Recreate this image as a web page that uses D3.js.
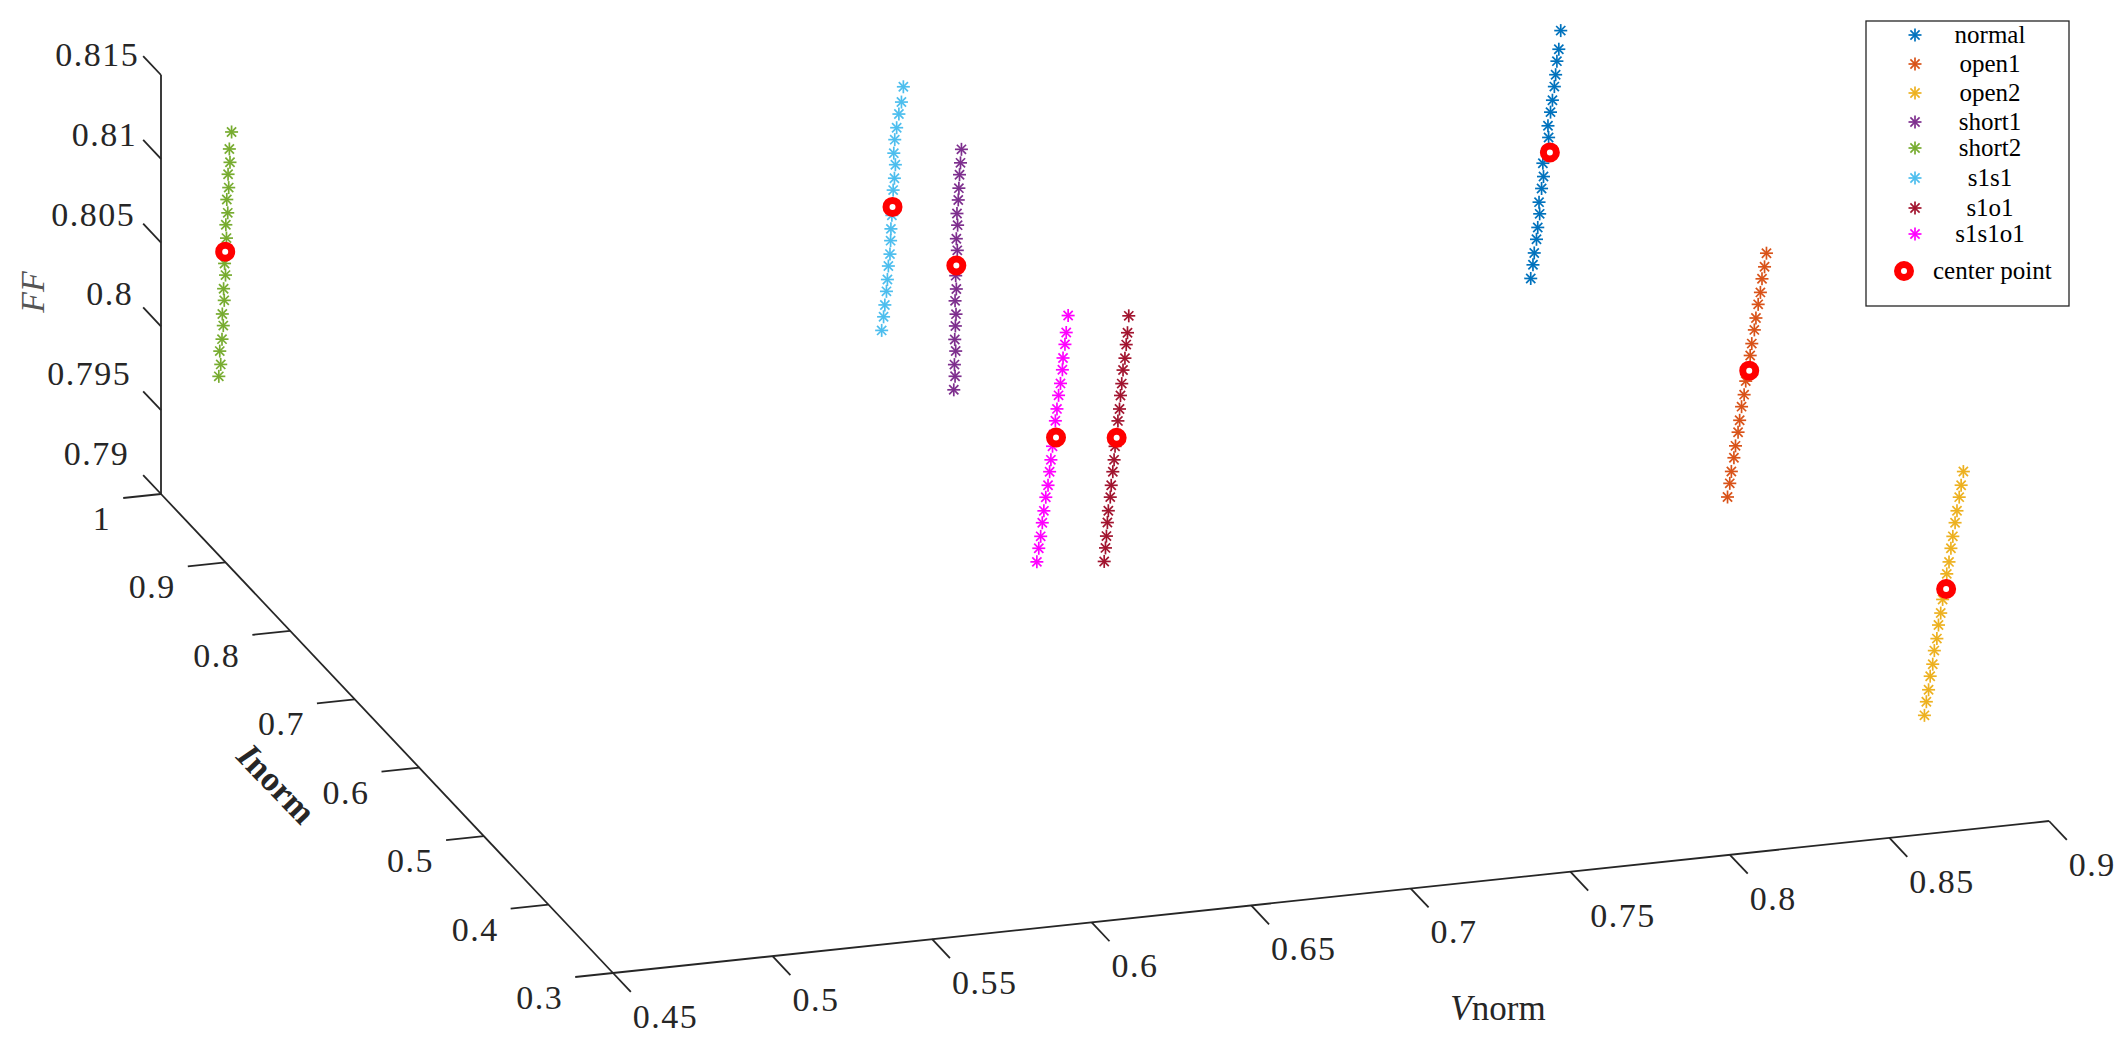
<!DOCTYPE html>
<html><head><meta charset="utf-8">
<script src="https://d3js.org/d3.v7.min.js"></script>
<style>body{margin:0;background:#fff}svg{display:block}</style>
</head><body><svg id="c" width="2124" height="1062" font-family="'Liberation Serif', 'Times New Roman', 'DejaVu Serif', serif"></svg>
<script>
// ---- data ----
const seriesNames = ["normal","open1","open2","short1","short2","s1s1","s1o1","s1s1o1"];
const seriesColors = ["#0072BD","#D95319","#EDB120","#7E2F8E","#77AC30","#4DBEEE","#A2142F","#FF00FF"];
const seriesI = [0.9,0.7,0.4,0.9,0.95,0.9,0.8,0.8];
const seriesF = [
 [0.7987,0.7995,0.8002,0.8010,0.8017,0.8025,0.8032,0.8040,0.8047,0.8055,0.8062,0.8070,0.8077,0.8085,0.8092,0.8100,0.8107,0.8115,0.8122,0.8133],
 [0.7934,0.7942,0.7949,0.7957,0.7964,0.7972,0.7979,0.7987,0.7994,0.8002,0.8009,0.8017,0.8024,0.8032,0.8039,0.8047,0.8054,0.8062,0.8069,0.8077],
 [0.7926,0.7934,0.7941,0.7949,0.7956,0.7964,0.7971,0.7979,0.7986,0.7994,0.8001,0.8009,0.8016,0.8024,0.8031,0.8039,0.8046,0.8054,0.8061,0.8069],
 [0.7957,0.7965,0.7972,0.7980,0.7987,0.7995,0.8002,0.8010,0.8017,0.8025,0.8032,0.8040,0.8047,0.8055,0.8062,0.8070,0.8077,0.8085,0.8092,0.8100],
 [0.7989,0.7996,0.8004,0.8011,0.8019,0.8026,0.8034,0.8041,0.8049,0.8056,0.8064,0.8071,0.8079,0.8086,0.8094,0.8101,0.8109,0.8116,0.8124,0.8134],
 [0.7997,0.8005,0.8012,0.8020,0.8027,0.8035,0.8042,0.8050,0.8057,0.8065,0.8072,0.8080,0.8087,0.8095,0.8102,0.8110,0.8117,0.8125,0.8132,0.8141],
 [0.7890,0.7898,0.7905,0.7913,0.7920,0.7928,0.7935,0.7943,0.7950,0.7958,0.7965,0.7973,0.7980,0.7988,0.7995,0.8003,0.8010,0.8018,0.8025,0.8035],
 [0.7894,0.7902,0.7909,0.7917,0.7924,0.7932,0.7939,0.7947,0.7954,0.7962,0.7969,0.7977,0.7984,0.7992,0.7999,0.8007,0.8014,0.8022,0.8029,0.8039]
];
const seriesV = [
 [0.8590,0.8597,0.8601,0.8608,0.8612,0.8618,0.8616,0.8624,0.8630,0.8628,0.8640,0.8646,0.8644,0.8652,0.8658,0.8664,0.8668,0.8672,0.8678,0.8684],
 [0.8802,0.8809,0.8814,0.8822,0.8827,0.8835,0.8840,0.8846,0.8854,0.8859,0.8866,0.8873,0.8878,0.8886,0.8891,0.8898,0.8905,0.8910,0.8918,0.8924],
 [0.8812,0.8818,0.8825,0.8830,0.8838,0.8843,0.8851,0.8856,0.8863,0.8869,0.8876,0.8882,0.8889,0.8895,0.8901,0.8908,0.8914,0.8921,0.8927,0.8934],
 [0.6782,0.6786,0.6784,0.6788,0.6785,0.6787,0.6789,0.6786,0.6790,0.6788,0.6791,0.6793,0.6790,0.6794,0.6792,0.6796,0.6798,0.6800,0.6803,0.6806],
 [0.4580,0.4586,0.4583,0.4590,0.4594,0.4591,0.4597,0.4595,0.4601,0.4598,0.4600,0.4604,0.4602,0.4608,0.4605,0.4611,0.4609,0.4615,0.4613,0.4620],
 [0.6556,0.6562,0.6566,0.6571,0.6574,0.6577,0.6582,0.6584,0.6585,0.6588,0.6590,0.6592,0.6596,0.6599,0.6594,0.6597,0.6603,0.6610,0.6618,0.6624],
 [0.7051,0.7055,0.7058,0.7061,0.7064,0.7070,0.7073,0.7078,0.7082,0.7085,0.7090,0.7094,0.7099,0.7102,0.7106,0.7110,0.7116,0.7120,0.7124,0.7128],
 [0.6840,0.6846,0.6852,0.6857,0.6862,0.6868,0.6875,0.6880,0.6884,0.6889,0.6893,0.6898,0.6903,0.6908,0.6914,0.6920,0.6922,0.6928,0.6932,0.6938]
];
const centerV = [0.865,0.887,0.888,0.679,0.460,0.659,0.709,0.690];
const centerF = [0.8061,0.8008,0.8000,0.8031,0.8063,0.8070,0.7963,0.7967];
const vTicks = [0.45,0.5,0.55,0.6,0.65,0.7,0.75,0.8,0.85,0.9];
const iTicks = [0.3,0.4,0.5,0.6,0.7,0.8,0.9,1];
const fTicks = [0.79,0.795,0.8,0.805,0.81,0.815];

// ---- projection via scales ----
const X0=613, Y0=973;
const vX=d3.scaleLinear().domain([0.45,0.9]).range([0,1436]);
const vY=d3.scaleLinear().domain([0.45,0.9]).range([0,-152]);
const iX=d3.scaleLinear().domain([0.3,1]).range([0,-452]);
const iY=d3.scaleLinear().domain([0.3,1]).range([0,-479]);
const fY=d3.scaleLinear().domain([0.79,0.815]).range([0,-419]);
const P=(v,i,f)=>[X0+vX(v)+iX(i), Y0+vY(v)+iY(i)+fY(f)];

const svg=d3.select("#c");
const ax=svg.append("g").attr("stroke","#262626").attr("stroke-width",1.8).attr("fill","none");
const line=(a,b)=>ax.append("line").attr("x1",a[0]).attr("y1",a[1]).attr("x2",b[0]).attr("y2",b[1]);
line(P(0.45,0.3,0.79),P(0.9,0.3,0.79));
line(P(0.45,0.3,0.79),P(0.45,1,0.79));
line(P(0.45,1,0.79),P(0.45,1,0.815));
const tc="#262626", fs=34;
function unit(dx,dy){const l=Math.hypot(dx,dy);return [dx/l,dy/l];}
const uV=unit(1436,-152), uI=unit(-452,-479);
const txt=(x,y,a,t)=>svg.append("text").attr("x",x).attr("y",y).attr("text-anchor",a).attr("font-size",fs).attr("letter-spacing",1.5).attr("fill",tc).text(t);
vTicks.forEach(t=>{const p=P(t,0.3,0.79);const q=[p[0]-uI[0]*26,p[1]-uI[1]*26];line(p,q);
 txt(q[0]+2,q[1]+36,"start",t);});
iTicks.forEach(t=>{const p=P(0.45,t,0.79);const q=[p[0]-uV[0]*38,p[1]-uV[1]*38];line(p,q);
 txt(q[0]-12,q[1]+32,"end",t);});
fTicks.forEach((t,k)=>{const p=P(0.45,1,t);const q=[p[0]+uI[0]*26,p[1]+uI[1]*26];line(p,q);
 txt(q[0]-2*(5-k)/5*5-4,q[1]-10+k*4,"end",t);});
svg.append("text").attr("transform","translate(44,292) rotate(-90)").attr("text-anchor","middle").attr("font-size",34).attr("fill","#555").attr("font-style","italic").text("FF");
const il=svg.append("text").attr("transform","translate(268,792) rotate(46)").attr("text-anchor","middle").attr("font-size",35).attr("font-weight","bold").attr("fill","#262626");
il.append("tspan").attr("font-style","italic").text("I");il.append("tspan").text("norm");
const vl=svg.append("text").attr("transform","translate(1498,1020)").attr("text-anchor","middle").attr("font-size",35).attr("fill","#262626");
vl.append("tspan").attr("font-style","italic").text("V");vl.append("tspan").text("norm");

function star(g,x,y,c,r){const s=g.append("g").attr("stroke",c).attr("stroke-width",1.7);
 [[r,0],[0,r],[r*0.707,r*0.707],[r*0.707,-r*0.707]].forEach(d=>s.append("line").attr("x1",x-d[0]).attr("y1",y-d[1]).attr("x2",x+d[0]).attr("y2",y+d[1]));}
const pg=svg.append("g");
seriesNames.forEach((n,k)=>{seriesF[k].forEach((f,j)=>{const p=P(seriesV[k][j],seriesI[k],f);star(pg,p[0],p[1],seriesColors[k],6.5);});});
function ctr(g,x,y){g.append("circle").attr("cx",x).attr("cy",y).attr("r",6.5).attr("fill","#fff").attr("stroke","#FF0000").attr("stroke-width",7);}
seriesNames.forEach((n,k)=>{const p=P(centerV[k],seriesI[k],centerF[k]);ctr(pg,p[0],p[1]);});

const lg=svg.append("g");
lg.append("rect").attr("x",1866).attr("y",21).attr("width",203).attr("height",285).attr("fill","#fff").attr("stroke","#262626").attr("stroke-width",1.3);
const ly=[35,64,93,122,148,178,208,234];
seriesNames.forEach((n,k)=>{star(lg,1915,ly[k],seriesColors[k],6.5);
 lg.append("text").attr("x",1990).attr("y",ly[k]+8).attr("text-anchor","middle").attr("font-size",25).attr("fill","#000").text(n);});
ctr(lg,1904,271);
lg.append("text").attr("x",1933).attr("y",279).attr("font-size",25).attr("fill","#000").text("center point");
</script></body></html>
